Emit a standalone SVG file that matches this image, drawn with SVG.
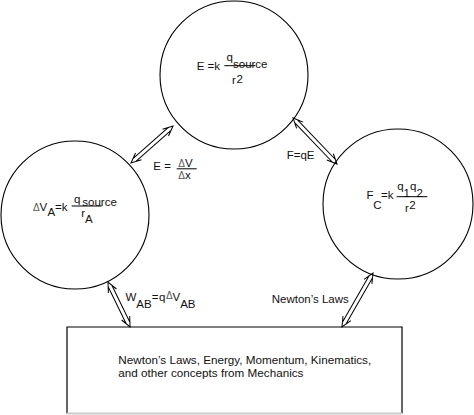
<svg xmlns="http://www.w3.org/2000/svg" width="474" height="415" viewBox="0 0 474 415">
<style>
.c{fill:none;stroke:#000;stroke-width:1.1}
.t{font-family:"Liberation Sans",Arial,sans-serif;font-size:11.5px;fill:#111}
.d{font-size:10px;fill:#555}
.fl{stroke:#000;stroke-width:1}
.ar{fill:none;stroke:#000;stroke-width:1}
</style>
<rect width="474" height="415" fill="#fff"/>
<g id="connectors">
<path class="ar" transform="translate(131,163) rotate(-41.4)" d="M10,-4.5 L0,0 L10,4.5 M4.4,-2 L51.6,-2 M4.4,2 L51.6,2 M46,-4.5 L56,0 L46,4.5"/>
<path class="ar" transform="translate(293,118) rotate(46.3)" d="M10,-4.5 L0,0 L10,4.5 M4.4,-2 L59.3,-2 M4.4,2 L59.3,2 M53.7,-4.5 L63.7,0 L53.7,4.5"/>
<path class="ar" transform="translate(108,282) rotate(63.9)" d="M10,-4.5 L0,0 L10,4.5 M4.4,-2 L45.7,-2 M4.4,2 L45.7,2 M40.1,-4.5 L50.1,0 L40.1,4.5"/>
<path class="ar" transform="translate(373,273) rotate(119.9)" d="M10,-4.5 L0,0 L10,4.5 M4.4,-2 L57.9,-2 M4.4,2 L57.9,2 M52.3,-4.5 L62.3,0 L52.3,4.5"/>
<text class="t" x="153.3" y="170">E =</text>
<text class="t" x="178.3" y="166.7"><tspan class="d">Δ</tspan>V</text>
<line class="fl" x1="176.7" y1="168.8" x2="196.7" y2="168.8"/>
<text class="t" x="178.3" y="178.5"><tspan class="d">Δ</tspan>x</text>
<text class="t" x="286.7" y="159">F=qE</text>
<text class="t" x="125.5" y="300.5">W</text>
<text class="t" x="136.3" y="307.5">AB</text>
<text class="t" x="151.8" y="300.5">=</text>
<text class="t" x="159" y="300.5">q</text>
<text class="t d" x="166" y="298.5">Δ</text>
<text class="t" x="172.5" y="300.5">V</text>
<text class="t" x="180.2" y="307.5">AB</text>
<text class="t" x="271.7" y="303">Newton’s Laws</text>
</g>
<g id="top">
<circle class="c" cx="234" cy="75" r="74"/>
<text class="t" x="196.7" y="70.3">E =k</text>
<text class="t" x="226.5" y="60.5">q</text>
<text class="t" x="233" y="67.5">source</text>
<line class="fl" x1="224.3" y1="65.7" x2="255.3" y2="65.7"/>
<text class="t" x="232" y="84.3">r</text>
<text class="t" x="236.5" y="82.7">2</text>
</g>
<g id="left">
<circle class="c" cx="75" cy="215" r="74"/>
<text class="t d" x="33" y="210.7">Δ</text>
<text class="t" x="39.5" y="210.7">V</text>
<text class="t" x="47.5" y="216">A</text>
<text class="t" x="55" y="210.7">=k</text>
<text class="t" x="74" y="202.5">q</text>
<text class="t" x="82.3" y="205.8">source</text>
<line class="fl" x1="71.7" y1="206" x2="101.7" y2="206"/>
<text class="t" x="81.3" y="216.5">r</text>
<text class="t" x="85" y="223">A</text>
</g>
<g id="right">
<circle class="c" cx="398" cy="204" r="75"/>
<text class="t" x="366.5" y="199">F</text>
<text class="t" x="373.3" y="209">C</text>
<text class="t" x="381" y="199">=k</text>
<text class="t" x="397.3" y="190">q</text>
<text class="t" x="403.5" y="196.7">1</text>
<text class="t" x="410" y="190">q</text>
<text class="t" x="416.5" y="197.3">2</text>
<line class="fl" x1="396.7" y1="196.7" x2="427.3" y2="196.7"/>
<text class="t" x="405" y="211.7">r</text>
<text class="t" x="409.3" y="209.3">2</text>
</g>
<g id="mechanics">
<path d="M67,413.5 V327 H402 V413.5" fill="none" stroke="#000" stroke-width="1.2"/>
<line x1="67" y1="413.5" x2="402" y2="413.5" stroke="#ccc" stroke-width="2"/>
<text class="t" style="font-size:11.7px" x="118.3" y="364.3">Newton’s Laws, Energy, Momentum, Kinematics,</text>
<text class="t" style="font-size:11.7px" x="118.3" y="377.3">and other concepts from Mechanics</text>
</g>
</svg>
